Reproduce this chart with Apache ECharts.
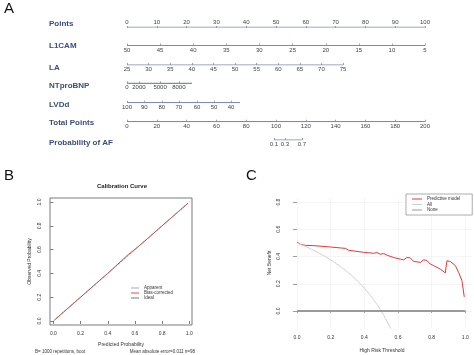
<!DOCTYPE html>
<html><head><meta charset="utf-8">
<script src="https://cdn.jsdelivr.net/npm/echarts@6/dist/echarts.min.js"></script>
<style>html,body{margin:0;padding:0;background:#fff}#c{width:474px;height:355px}</style>
</head><body><div id="c"></div>
<script>
// ---------- Panel A: nomogram ----------
const rowNames = ['Points','L1CAM','LA','NTproBNP','LVDd','Total Points','Probability of AF'];
const pointsLabels = [0,10,20,30,40,50,60,70,80,90,100];
const pointsPos    = [0,10,20,30,40,50,60,70,80,90,100];
const l1camLabels  = [50,45,40,35,30,25,20,15,10,5];
const l1camPos     = [0,11.1,22.2,33.3,44.4,55.6,66.7,77.8,88.9,100];
const laLabels     = [25,30,35,40,45,50,55,60,65,70,75];
const laPos        = [0,7.25,14.5,21.75,29,36.25,43.5,50.75,58,65.25,72.5];
const bnpLabels    = [0,2000,5000,8000];
const bnpPos       = [0,4.0,11.1,17.4];
const bnpEnd       = 21.8;
const lvddLabels   = [100,90,80,70,60,50,40];
const lvddPos      = [0,5.8,11.7,17.4,23.5,29.2,34.9];
const lvddEnd      = 37.9;
const totalLabels  = [0,20,40,60,80,100,120,140,160,180,200];
const totalPos     = [0,10,20,30,40,50,60,70,80,90,100];
const probLabels   = ['0.1','0.3','0.7'];
const probPos      = [49.3,53.0,58.7];

// ---------- Panel B: calibration ----------
const calPred  = [0.01,0.1,0.2,0.3,0.4,0.5,0.55,0.6,0.7,0.8,0.9,0.99];
const calBias  = [0.01,0.1,0.2,0.3,0.4,0.505,0.558,0.602,0.7,0.8,0.9,0.99];
const calApp   = [0.01,0.1,0.2,0.3,0.4,0.5,0.552,0.6,0.7,0.8,0.9,0.99];
const idealX   = [0,1];
const idealY   = [0,1];
const unitTicks = [0,0.2,0.4,0.6,0.8,1.0];

// ---------- Panel C: decision curve ----------
const dcaT  = [0,0.02,0.05,0.1,0.2,0.26,0.287,0.307,0.317,0.396,0.455,0.475,0.495,0.515,0.535,0.574,0.614,0.634,0.653,0.673,0.693,0.733,0.743,0.752,0.772,0.792,0.812,0.851,0.881,0.891,0.911,0.941,0.96,0.98,0.994];
const dcaNB = [0.506,0.489,0.482,0.48,0.47,0.463,0.46,0.446,0.441,0.431,0.424,0.429,0.417,0.422,0.41,0.393,0.381,0.376,0.393,0.39,0.364,0.357,0.349,0.376,0.371,0.345,0.333,0.308,0.28,0.369,0.364,0.333,0.284,0.224,0.104];
const allT  = [0,0.05,0.1,0.15,0.2,0.25,0.3,0.35,0.4,0.45,0.5,0.55,0.57];
const allNB = [0.5,0.474,0.444,0.412,0.375,0.333,0.286,0.231,0.167,0.091,0,-0.111,-0.16];
const noneT = [0,1];
const noneNB = [0,0];
const dcaYTicks = [0,0.2,0.4,0.6,0.8];

const FONT = 'Liberation Sans, Arial, sans-serif';
const rows = [
  {labels: pointsLabels, pos: pointsPos, end: 100},
  {labels: l1camLabels, pos: l1camPos, end: 100},
  {labels: laLabels, pos: laPos, end: laPos[laPos.length-1]},
  {labels: bnpLabels, pos: bnpPos, end: bnpEnd},
  {labels: lvddLabels, pos: lvddPos, end: lvddEnd},
  {labels: totalLabels, pos: totalPos, end: 100},
  {labels: probLabels, pos: probPos, end: probPos[probPos.length-1]}
];
const lineY = [27, 45.5, 65, 83.3, 102.7, 121.7, 140];
const nameY = [24.3, 46.7, 68.7, 86.7, 105.7, 123.3, 144];

const grids = [], xAxes = [], yAxes = [], series = [], graphics = [];
rows.forEach((r, i) => {
  const top = i === 0;
  grids.push({left: 127, width: 298, top: top ? lineY[i] : lineY[i] - 1, height: 1});
  xAxes.push({
    gridIndex: i, type: 'value', min: 0, max: 100, position: top ? 'top' : 'bottom',
    axisLine: {show: false}, splitLine: {show: false},
    axisTick: {show: true, customValues: r.pos, length: 2, inside: !top, lineStyle: {color: '#7b8cb0', width: 0.8}},
    axisLabel: {customValues: r.pos, fontSize: 6, color: '#444', margin: top ? 2 : 1.5, fontFamily: FONT,
      formatter: v => { let k = 0, d = 1e9; r.pos.forEach((p, j) => { if (Math.abs(p - v) < d) { d = Math.abs(p - v); k = j; } }); return String(r.labels[k]); }}
  });
  yAxes.push({gridIndex: i, type: 'value', min: 0, max: 1, show: false});
  series.push({type: 'line', xAxisIndex: i, yAxisIndex: i, symbol: 'none', silent: true,
    data: [[r.pos[0], top ? 1 : 0], [r.end, top ? 1 : 0]], lineStyle: {color: '#7b8cb0', width: 1.2}});
  graphics.push({type: 'text', left: 49, top: nameY[i] - 5, style: {text: rowNames[i], font: 'bold 8px ' + FONT, fill: '#3b4d7a'}});
});

// Panel B grid (index 7)
grids.push({left: 50, width: 142, top: 198, height: 127, show: true, borderColor: '#444', borderWidth: 0.7});
xAxes.push({gridIndex: 7, type: 'value', min: -0.025, max: 1.02,
  axisLine: {show: false}, splitLine: {show: false},
  axisTick: {customValues: unitTicks, length: 3, lineStyle: {color: '#444', width: 0.7}},
  axisLabel: {customValues: unitTicks, fontSize: 5, color: '#333', margin: 6.5, fontFamily: FONT, formatter: v => v.toFixed(1)},
  name: 'Predicted Probability', nameLocation: 'middle', nameGap: 17.5, nameTextStyle: {fontSize: 5, color: '#333', fontFamily: FONT}});
yAxes.push({gridIndex: 7, type: 'value', min: -0.034, max: 1.034,
  axisLine: {show: false}, splitLine: {show: false},
  axisTick: {customValues: unitTicks, length: 3, lineStyle: {color: '#444', width: 0.7}},
  axisLabel: {customValues: unitTicks, fontSize: 5, color: '#333', margin: 7.5, rotate: 90, fontFamily: FONT, formatter: v => v.toFixed(1)},
  name: 'Observed Probability', nameLocation: 'middle', nameGap: 17.5, nameRotate: 90, nameTextStyle: {fontSize: 5, color: '#333', fontFamily: FONT}});
series.push({name: 'Apparent', type: 'line', xAxisIndex: 7, yAxisIndex: 7, symbol: 'none',
  itemStyle: {color: '#aaaaaa'},
  data: calPred.map((x, j) => [x, calApp[j]]), lineStyle: {color: '#aaaaaa', width: 1, type: 'dotted'}});
series.push({name: 'Bias-corrected', type: 'line', xAxisIndex: 7, yAxisIndex: 7, symbol: 'none',
  itemStyle: {color: '#d9534f'},
  data: calPred.map((x, j) => [x, calBias[j]]), lineStyle: {color: '#d9534f', width: 1}});
series.push({name: 'Ideal', type: 'line', xAxisIndex: 7, yAxisIndex: 7, symbol: 'none',
  itemStyle: {color: '#777777'},
  data: idealX.map((x, j) => [x, idealY[j]]), lineStyle: {color: '#777', width: 0.6, type: 'dashed'}});

// Panel C grid (index 8)
grids.push({left: 292, width: 180, top: 198, height: 130});
xAxes.push({gridIndex: 8, type: 'value', min: -0.03, max: 1.04,
  axisLine: {show: false},
  splitLine: {show: true, lineStyle: {color: '#eeeeee', width: 0.6}},
  axisTick: {customValues: unitTicks, length: 2, lineStyle: {color: '#666', width: 0.6}},
  axisLabel: {customValues: unitTicks, fontSize: 5, color: '#333', margin: 7.5, fontFamily: FONT, formatter: v => v.toFixed(1)},
  name: 'High Risk Threshold', nameLocation: 'middle', nameGap: 20.5, nameTextStyle: {fontSize: 5, color: '#333', fontFamily: FONT}});
yAxes.push({gridIndex: 8, type: 'value', min: -0.125, max: 0.83,
  axisLine: {show: false},
  splitLine: {show: true, lineStyle: {color: '#eeeeee', width: 0.6}},
  axisTick: {customValues: dcaYTicks, length: 4, lineStyle: {color: '#666', width: 0.6}},
  axisLabel: {customValues: dcaYTicks, fontSize: 5, color: '#333', margin: 10.5, rotate: 90, fontFamily: FONT, formatter: v => v.toFixed(1)},
  name: 'Net Benefit', nameLocation: 'middle', nameGap: 19.5, nameRotate: 90, nameTextStyle: {fontSize: 5, color: '#333', fontFamily: FONT}});
series.push({name: 'Predictive model', type: 'line', xAxisIndex: 8, yAxisIndex: 8, symbol: 'none',
  itemStyle: {color: '#e03a3a'},
  data: dcaT.map((x, j) => [x, dcaNB[j]]), lineStyle: {color: '#e03a3a', width: 1}});
series.push({name: 'All', type: 'line', xAxisIndex: 8, yAxisIndex: 8, symbol: 'none', smooth: true,
  itemStyle: {color: '#cfcfcf'},
  data: allT.map((x, j) => [x, allNB[j]]), lineStyle: {color: '#cfcfcf', width: 1}});
series.push({name: 'None', type: 'line', xAxisIndex: 8, yAxisIndex: 8, symbol: 'none',
  itemStyle: {color: '#9a9a9a'},
  data: noneT.map((x, j) => [x, noneNB[j]]), lineStyle: {color: '#9a9a9a', width: 2}});

// free text
graphics.push({type: 'text', left: 4, top: 1, style: {text: 'A', font: '15px ' + FONT, fill: '#111'}});
graphics.push({type: 'text', left: 4, top: 168, style: {text: 'B', font: '15px ' + FONT, fill: '#111'}});
graphics.push({type: 'text', left: 246, top: 168, style: {text: 'C', font: '15px ' + FONT, fill: '#111'}});
graphics.push({type: 'text', x: 122, y: 186, style: {text: 'Calibration Curve', font: 'bold 6px ' + FONT, fill: '#222', align: 'center', verticalAlign: 'middle'}});
graphics.push({type: 'text', x: 35, y: 351.5, style: {text: 'B= 1000 repetitions, boot', font: '4.5px ' + FONT, fill: '#333', align: 'left', verticalAlign: 'middle'}});
graphics.push({type: 'text', x: 195, y: 351.5, style: {text: 'Mean absolute error=0.011 n=98', font: '4.5px ' + FONT, fill: '#333', align: 'right', verticalAlign: 'middle'}});

const chart = echarts.init(document.getElementById('c'), null, {renderer: 'canvas'});
chart.setOption({
  animation: false,
  backgroundColor: '#fff',
  grid: grids, xAxis: xAxes, yAxis: yAxes, series: series, graphic: graphics,
  legend: [
    {data: ['Apparent', 'Bias-corrected', 'Ideal'], orient: 'vertical', left: 131, top: 285.5,
     icon: 'rect', itemWidth: 8, itemHeight: 1, itemGap: 0, padding: 0,
     textStyle: {fontSize: 4.5, lineHeight: 4.5, color: '#333', fontFamily: FONT}},
    {data: ['Predictive model', 'All', 'None'], orient: 'vertical', left: 406, top: 194,
     icon: 'rect', itemWidth: 10, itemHeight: 1, itemGap: 0.5, padding: [2.5, 12, 2.5, 6],
     borderColor: '#777', borderWidth: 0.6, backgroundColor: '#fff',
     textStyle: {fontSize: 4.5, lineHeight: 4.5, color: '#333', fontFamily: FONT}}
  ]
});
</script></body></html>
